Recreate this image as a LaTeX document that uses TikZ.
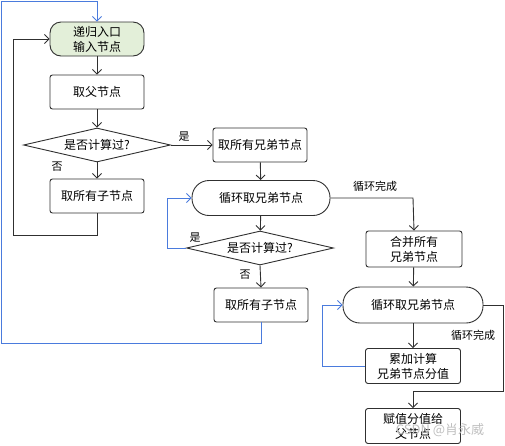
\documentclass[tikz,border=0pt]{standalone}
\usepackage{fontspec}
\newfontfamily\cjk{Noto Sans CJK SC}
\usetikzlibrary{shapes.geometric,arrows.meta}
\definecolor{startfill}{HTML}{E3EFD9}
\definecolor{loopblue}{HTML}{4A7BDD}
\definecolor{edge}{HTML}{303030}
\tikzset{
  base/.style={draw=edge, line width=0.9pt, align=center, inner sep=0pt, text=black,
    font=\cjk\fontsize{12}{15}\selectfont},
  box/.style={base, rounded corners=2.5pt, minimum width=94pt, minimum height=34pt},
  startbox/.style={base, rounded corners=11pt, fill=startfill, minimum width=94pt, minimum height=34pt},
  loopbox/.style={base, rounded corners=17pt, minimum height=35pt},
  decide/.style={base, diamond, aspect=4.3, minimum width=147pt, minimum height=34pt},
  lbl/.style={inner sep=0pt, font=\cjk\fontsize{11}{13}\selectfont},
  arr/.style={draw=edge, line width=0.9pt, -{Straight Barb[length=4.5pt,width=9pt]}},
  barr/.style={arr, draw=loopblue},
  ln/.style={draw=edge, line width=0.9pt},
  bln/.style={draw=loopblue, line width=0.9pt}
}
\begin{document}
\begin{tikzpicture}[x=1pt,y=-1pt]
\useasboundingbox (0,0) rectangle (505,445);
% nodes
\node[startbox] (start) at (97,39) {递归入口\\输入节点};
\node[box] (parent) at (97,92) {取父节点};
\node[decide] (d1) at (97,145) {是否计算过?};
\node[box] (child1) at (97,196) {取所有子节点};
\node[box] (sib) at (260,145) {取所有兄弟节点};
\node[loopbox, minimum width=138pt] (loop1) at (261,198) {循环取兄弟节点};
\node[decide] (d2) at (260,248) {是否计算过?};
\node[box] (child2) at (261,305) {取所有子节点};
\node[box, minimum width=96pt, minimum height=36pt] (merge) at (414,249) {合并所有\\兄弟节点};
\node[loopbox, minimum width=140pt, minimum height=36pt] (loop2) at (413,305) {循环取兄弟节点};
\node[box, minimum width=95pt, minimum height=35pt] (acc) at (413,366) {累加计算\\兄弟节点分值};
\node[box, minimum width=95pt, minimum height=35pt] (assign) at (413,426) {赋值分值给\\父节点};
% labels
\node[lbl] (yes1) at (184,137) {是};
\node[lbl] (no1) at (57,167) {否};
\node[lbl] (yes2) at (195,238) {是};
\node[lbl] (no2) at (245,275) {否};
\node[lbl] (done1) at (375,186) {循环完成};
\node[lbl] (done2) at (473,335) {循环完成};
\node[lbl, text=black!25, font=\cjk\fontsize{13}{15}\selectfont] (wm) at (440,430) {CSDN @肖永威};
% bend points
\coordinate (c1a) at (97,235);
\coordinate (c1b) at (13,235);
\coordinate (c1c) at (13,39);
\coordinate (b1a) at (261,343);
\coordinate (b1b) at (1,343);
\coordinate (b1c) at (1,1);
\coordinate (b1d) at (97,1);
\coordinate (b2a) at (167,248);
\coordinate (b2b) at (167,198);
\coordinate (r1) at (413,198);
\coordinate (b3a) at (322,366);
\coordinate (b3b) at (322,305);
\coordinate (r2a) at (503,305);
\coordinate (r2b) at (503,391);
\coordinate (r2c) at (413,391);
% connectors
\draw[arr] (start) -- (parent);
\draw[arr] (parent) -- (d1);
\draw[arr] (d1) -- (child1);
\draw[arr] (child1.south) -- (c1a) -- (c1b) -- (c1c) -- (start.west);
\draw[arr] (d1.east) -- (sib.west);
\draw[arr] (sib) -- (loop1);
\draw[arr] (loop1) -- (d2);
\draw[barr] (d2.west) -- (b2a) -- (b2b) -- (loop1.west);
\draw[arr] (d2.south) -- (child2.north);
\draw[barr] (child2.south) -- (b1a) -- (b1b) -- (b1c) -- (b1d) -- (start.north);
\draw[arr] (loop1.east) -- (r1) -- (merge.north);
\draw[arr] (merge) -- (loop2);
\draw[arr] (loop2) -- (acc);
\draw[barr] (acc.west) -- (b3a) -- (b3b) -- (loop2.west);
\draw[arr] (loop2.east) -- (r2a) -- (r2b) -- (r2c) -- (assign.north);
\end{tikzpicture}
\end{document}
